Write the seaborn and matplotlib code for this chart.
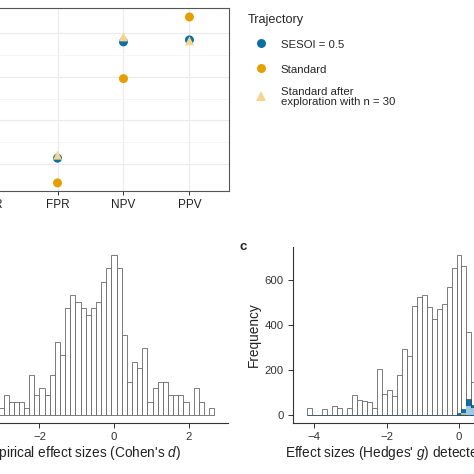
import numpy as np
import pandas as pd
import seaborn as sns
import matplotlib.pyplot as plt

# ---- top panel: classification metrics per trajectory ----
metrics = ["TPR", "FPR", "NPV", "PPV"]
trajectories = ["SESOI = 0.5", "Standard", "Standard after\nexploration with n = 30"]
sesoi_vals = [0.55, 0.227, 0.759, 0.768]
standard_vals = [0.35, 0.114, 0.591, 0.873]
explore_vals = [0.56, 0.241, 0.782, 0.764]

# ---- bottom left: empirical effect sizes (Cohen's d) ----
cohen_start = -3.1034
cohen_binwidth = 4 / 29
cohen_counts = [1, 3, 2, 2, 2, 1, 6, 3, 4, 3, 6, 11, 9, 16, 18, 17, 16, 15, 16, 17,
                20, 22, 24, 22, 12, 5, 8, 7, 10, 2, 4, 5, 5, 3, 3, 3, 2, 0, 4, 2, 0, 1]

# ---- bottom right: detected effect sizes (Hedges' g) ----
hedges_start = -4.207
hedges_binwidth = 4 / 29
hedges_counts = [30, 0, 0, 25, 0, 41, 30, 0, 30, 90, 67, 64, 56, 30, 203, 93, 110, 84,
                 178, 292, 262, 484, 526, 533, 479, 427, 471, 493, 567, 655, 711, 664,
                 367, 145]
sesoi_detected = [0] * 29 + [2, 9, 27, 71, 45]
explore_detected = [0] * 29 + [0, 0, 8, 40, 30]
standard_detected = [0] * 29 + [0, 0, 3, 0, 0]

blue = "#0C6FA6"
orange = "#E69F00"
light = "#F6D490"

sns.set_theme(style="white")
plt.rcParams["font.family"] = ["Liberation Sans", "DejaVu Sans"]
plt.rcParams["mathtext.fontset"] = "custom"
plt.rcParams["mathtext.it"] = "Liberation Sans:italic"
plt.rcParams["mathtext.rm"] = "Liberation Sans"

W = H = 474
fig = plt.figure(figsize=(4.74, 4.74), dpi=100)


def rect(left, top, right, bottom):
    return [left / W, 1 - bottom / H, (right - left) / W, (bottom - top) / H]


# ================= top panel =================
ax1 = fig.add_axes(rect(-48, 8, 229, 191))
df = pd.DataFrame({
    "metric": metrics * 3,
    "value": sesoi_vals + standard_vals + explore_vals,
    "Trajectory": np.repeat(trajectories, len(metrics)),
})
sns.scatterplot(data=df, x="metric", y="value", hue="Trajectory", style="Trajectory",
                hue_order=trajectories, style_order=trajectories,
                palette=[blue, orange, light], markers=["o", "o", "^"],
                s=42, linewidth=0, ax=ax1, zorder=3)
ax1.set_xlim(-0.6, 3.6)
ax1.set_ylim(0.077, 0.914)
ax1.set_yticks([0.2, 0.4, 0.6, 0.8])
ax1.set_yticks([0.3, 0.5, 0.7], minor=True)
ax1.grid(which="major", color="#EBEBEB", lw=0.8)
ax1.grid(which="minor", axis="y", color="#F2F2F2", lw=0.5)
ax1.set_axisbelow(True)
ax1.set_xlabel("")
ax1.set_ylabel("")
ax1.set_yticklabels([])
ax1.tick_params(axis="x", length=3, width=0.7, color="#333333", labelsize=8.5,
                labelcolor="#222222", pad=2.5, bottom=True)
ax1.tick_params(axis="y", which="both", length=0)
for sp in ax1.spines.values():
    sp.set_color("#555555")
    sp.set_linewidth(0.8)
sns.move_legend(ax1, "upper left", bbox_to_anchor=(248 / W, 1 - 13.5 / H),
                bbox_transform=fig.transFigure, frameon=False, title="Trajectory",
                fontsize=8.2, title_fontsize=9.2, alignment="left",
                labelspacing=1.05, handleheight=1.38, handlelength=2.28,
                handletextpad=0.6, borderpad=0, borderaxespad=0)
for t in ax1.get_legend().get_texts():
    t.set_linespacing(1.0)

# ================= bottom left =================
ax2 = fig.add_axes(rect(-79, 247, 228, 423))
edges_d = cohen_start + cohen_binwidth * np.arange(len(cohen_counts) + 1)
hist_d = pd.DataFrame({"d": (edges_d[:-1] + edges_d[1:]) / 2, "n": cohen_counts})
sns.histplot(data=hist_d, x="d", weights="n", bins=list(edges_d), color="white",
             edgecolor="#666666", linewidth=0.6, alpha=1, ax=ax2)
ax2.set_xlim(-5.18, 3.06)
ax2.set_ylim(-1.2, 25.2)
ax2.set_xticks([-4, -2, 0, 2])
ax2.set_yticks([])
ax2.set_ylabel("")
ax2.set_xlabel("Empirical effect sizes (Cohen's $d$)", fontsize=9.8, color="#222222")
ax2.xaxis.set_label_coords(0.516, -(453 - 423) / 176)
ax2.xaxis.label.set_va("center")
for s in ["top", "right", "left"]:
    ax2.spines[s].set_visible(False)
ax2.spines["bottom"].set_color("#333333")
ax2.spines["bottom"].set_linewidth(0.8)
ax2.tick_params(axis="x", length=3.5, width=0.7, color="#333333", labelsize=8.2,
                labelcolor="#333333", pad=3.3, bottom=True)

# ================= bottom right (c) =================
ax3 = fig.add_axes(rect(293, 247, 640, 423))
edges_g = hedges_start + hedges_binwidth * np.arange(len(hedges_counts) + 1)
hist_g = pd.DataFrame({
    "g": (edges_g[:-1] + edges_g[1:]) / 2,
    "all": hedges_counts,
    "sesoi": sesoi_detected,
    "explore": explore_detected,
    "standard": standard_detected,
})
bins_g = list(edges_g)
sns.histplot(data=hist_g, x="g", weights="all", bins=bins_g, color="white",
             edgecolor="#666666", linewidth=0.6, alpha=1, ax=ax3)
sns.histplot(data=hist_g, x="g", weights="sesoi", bins=bins_g, color=blue,
             edgecolor="#1d3f5e", linewidth=0.4, alpha=1, ax=ax3)
sns.histplot(data=hist_g, x="g", weights="explore", bins=bins_g, color="#9CC9E8",
             edgecolor="none", alpha=1, ax=ax3)
sns.histplot(data=hist_g, x="g", weights="standard", bins=bins_g, color=orange,
             edgecolor="none", alpha=0.8, ax=ax3)
ax3.set_xlim(-4.586, 5.0)
ax3.set_ylim(-35.6, 746.7)
ax3.set_xticks([-4, -2, 0, 2, 4])
ax3.set_yticks([0, 200, 400, 600])
for s in ["top", "right"]:
    ax3.spines[s].set_visible(False)
for s in ["left", "bottom"]:
    ax3.spines[s].set_color("#333333")
    ax3.spines[s].set_linewidth(0.8)
ax3.tick_params(length=3.5, width=0.7, color="#333333", labelsize=8.2,
                labelcolor="#333333", pad=3.3, bottom=True, left=True)
ax3.set_ylabel("Frequency", fontsize=9.8, color="#222222")
ax3.yaxis.set_label_coords((253.5 - 293) / (640 - 293), 0.5)
ax3.yaxis.label.set_va("center")
ax3.set_xlabel("Effect sizes (Hedges' $g$) detected by trajectory", fontsize=9.8,
               color="#222222", ha="left", va="center")
ax3.xaxis.set_label_coords((285 - 293) / (640 - 293), -(453 - 423) / 176)
fig.text(243 / W, 1 - 247 / H, "c", fontsize=9.5, fontweight="bold", ha="center",
         va="center")

fig.savefig("out.png", dpi=100)
